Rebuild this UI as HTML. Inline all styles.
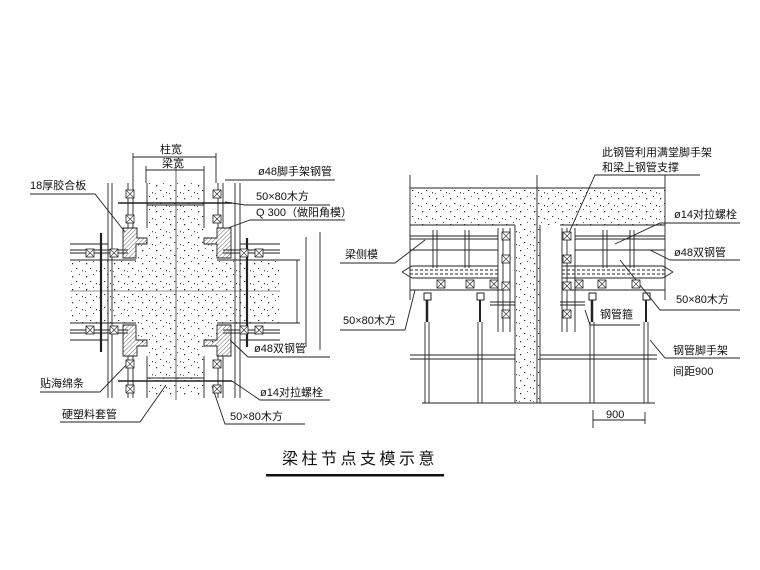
<!DOCTYPE html>
<html><head><meta charset="utf-8"><style>
html,body{margin:0;padding:0;background:#fff;}
svg{display:block}
text{font-family:"Liberation Sans","Noto Sans CJK SC",sans-serif;font-size:11px;fill:#111}
</style></head><body>
<svg width="760" height="570" viewBox="0 0 760 570" xmlns="http://www.w3.org/2000/svg">
<defs>
<pattern id="c" width="14" height="13" patternUnits="userSpaceOnUse">
<rect x="2" y="3" width="1.3" height="1.3" fill="#333"/><rect x="9" y="1" width="1" height="1" fill="#555"/><rect x="6" y="8" width="1.3" height="1" fill="#333"/><rect x="12" y="10" width="1" height="1.3" fill="#444"/><rect x="1" y="11" width="1" height="1" fill="#666"/>
</pattern>
<pattern id="h" width="3" height="3" patternUnits="userSpaceOnUse" patternTransform="rotate(45)"><line x1="0" y1="0" x2="0" y2="3" stroke="#444" stroke-width="0.8"/></pattern>
<g id="wb"><rect x="0" y="0" width="8" height="8" fill="#fff" stroke="#222" stroke-width="0.8"/><path d="M0 0L8 8M8 0L0 8" stroke="#222" stroke-width="0.6"/></g>
</defs>
<g stroke="#222" stroke-width="0.9" fill="none">
<path d="M147 183H204V238H217V260H280V323H217V345H204V398H147V345H136V323H70V260H136V238H147Z" fill="url(#c)" stroke="none"/>
<line x1="176" y1="165" x2="176" y2="400" stroke-width="0.7"/>
<line x1="70" y1="291" x2="280" y2="291" stroke-width="0.6"/>
<line x1="108" y1="183" x2="108" y2="398"/><line x1="112" y1="183" x2="112" y2="398"/>
<line x1="235" y1="183" x2="235" y2="398"/><line x1="240" y1="183" x2="240" y2="398"/>
<line x1="128" y1="183" x2="128" y2="228"/><line x1="133" y1="183" x2="133" y2="228"/>
<line x1="147" y1="183" x2="147" y2="228"/><line x1="204" y1="183" x2="204" y2="228"/>
<line x1="218" y1="183" x2="218" y2="228"/><line x1="223" y1="183" x2="223" y2="228"/>
<line x1="128" y1="356" x2="128" y2="398"/><line x1="133" y1="356" x2="133" y2="398"/>
<line x1="147" y1="356" x2="147" y2="398"/><line x1="204" y1="356" x2="204" y2="398"/>
<line x1="218" y1="356" x2="218" y2="398"/><line x1="223" y1="356" x2="223" y2="398"/>
<line x1="118" y1="203" x2="232" y2="203" stroke-width="1.6"/><line x1="118" y1="381" x2="232" y2="381" stroke-width="1.6"/>
<line x1="147" y1="205" x2="204" y2="205"/><line x1="147" y1="378" x2="204" y2="378"/>
<line x1="70" y1="250" x2="128" y2="250"/><line x1="70" y1="253" x2="128" y2="253"/>
<line x1="70" y1="260" x2="136" y2="260"/>
<line x1="70" y1="323" x2="136" y2="323"/><line x1="70" y1="330" x2="128" y2="330"/><line x1="70" y1="333" x2="128" y2="333"/>
<line x1="223" y1="250" x2="280" y2="250"/><line x1="223" y1="253" x2="280" y2="253"/>
<line x1="217" y1="260" x2="280" y2="260"/>
<line x1="217" y1="323" x2="280" y2="323"/><line x1="223" y1="330" x2="280" y2="330"/><line x1="223" y1="333" x2="280" y2="333"/>
<line x1="70" y1="244" x2="108" y2="244"/><line x1="240" y1="244" x2="280" y2="244"/>
<line x1="70" y1="340" x2="108" y2="340"/><line x1="240" y1="340" x2="280" y2="340"/>
<line x1="101" y1="233" x2="101" y2="352" stroke-width="2.2"/><line x1="247" y1="238" x2="247" y2="347" stroke-width="2.2"/>
<path d="M123 228H137V238H147V244H136V258H123Z" fill="url(#h)"/>
<path d="M217 228H231V258H217V244H204V238H217Z" fill="url(#h)"/>
<path d="M123 325H136V340H147V346H137V356H123Z" fill="url(#h)"/>
<path d="M217 325H231V356H217V346H204V340H217Z" fill="url(#h)"/>
<line x1="133" y1="157" x2="216" y2="157"/><line x1="146" y1="170" x2="204" y2="170"/>
<line x1="133" y1="153" x2="133" y2="183"/><line x1="216" y1="153" x2="216" y2="183"/>
<line x1="146" y1="166" x2="146" y2="183"/><line x1="204" y1="166" x2="204" y2="183"/>
<line x1="297" y1="260" x2="297" y2="323"/><line x1="306" y1="237" x2="306" y2="347"/><line x1="320" y1="232" x2="320" y2="350"/>
<line x1="280" y1="260" x2="300" y2="260"/><line x1="280" y1="323" x2="300" y2="323"/>
<polyline points="30,194 95,194 125,232"/><polyline points="225,177 245,179 335,179" opacity="0"/>
<polyline points="225,180 242,180 252,180"/>
<polyline points="225,202 245,205 330,205"/><polyline points="228,228 250,220 345,220"/>
<polyline points="230,340 248,357 330,357"/><polyline points="131,360 100,392 40,392"/>
<polyline points="166,385 140,422 60,422"/><polyline points="232,381 260,400 330,400"/><polyline points="212,386 225,424 305,424"/>
<line x1="252" y1="180" x2="335" y2="180"/>
<rect x="410" y="188" width="255" height="37" fill="url(#c)" stroke="none"/>
<rect x="515" y="188" width="25" height="215" fill="url(#c)" stroke="none"/>
<line x1="410" y1="175" x2="410" y2="300"/><line x1="665" y1="175" x2="665" y2="300"/>
<line x1="537" y1="175" x2="537" y2="403"/>
<line x1="410" y1="188" x2="665" y2="188"/>
<line x1="515" y1="225" x2="515" y2="403"/><line x1="540" y1="225" x2="540" y2="403"/>
<line x1="410" y1="225" x2="515" y2="225"/><line x1="560" y1="225" x2="665" y2="225"/>
<line x1="410" y1="236" x2="498" y2="236"/><line x1="410" y1="239" x2="498" y2="239"/>
<line x1="575" y1="236" x2="665" y2="236"/><line x1="575" y1="239" x2="665" y2="239"/>
<line x1="410" y1="250" x2="498" y2="250"/><line x1="575" y1="250" x2="665" y2="250"/>
<path d="M402 272L412 266H498M412 278L402 272M412 278H498" /><path d="M673 272L663 266H562M663 278L673 272M663 278H562"/>
<line x1="410" y1="270" x2="498" y2="270" stroke-dasharray="3 2"/><line x1="410" y1="274" x2="498" y2="274" stroke-dasharray="3 2"/>
<line x1="562" y1="270" x2="665" y2="270" stroke-dasharray="3 2"/><line x1="562" y1="274" x2="665" y2="274" stroke-dasharray="3 2"/>
<line x1="410" y1="290" x2="505" y2="290"/><line x1="570" y1="290" x2="665" y2="290"/>
<line x1="433" y1="230" x2="433" y2="268"/><line x1="437" y1="230" x2="437" y2="268"/>
<line x1="465" y1="230" x2="465" y2="268"/><line x1="469" y1="230" x2="469" y2="268"/>
<line x1="603" y1="230" x2="603" y2="268"/><line x1="607" y1="230" x2="607" y2="268"/>
<line x1="630" y1="230" x2="630" y2="268"/><line x1="634" y1="230" x2="634" y2="268"/>
<line x1="498" y1="228" x2="498" y2="332"/><line x1="503" y1="228" x2="503" y2="332"/><line x1="510" y1="228" x2="510" y2="332"/>
<line x1="562" y1="228" x2="562" y2="332"/><line x1="567" y1="228" x2="567" y2="332"/><line x1="575" y1="228" x2="575" y2="332"/>
<g stroke-width="1"><rect x="424" y="293" width="7" height="7"/><rect x="477" y="293" width="7" height="7"/><rect x="589" y="293" width="7" height="7"/><rect x="643" y="293" width="7" height="7"/></g>
<line x1="427" y1="300" x2="427" y2="322" stroke-width="2.5"/><line x1="480" y1="300" x2="480" y2="322" stroke-width="2"/>
<line x1="592" y1="300" x2="592" y2="322" stroke-width="2.5"/><line x1="646" y1="300" x2="646" y2="322" stroke-width="2"/>
<line x1="425" y1="322" x2="425" y2="403"/><line x1="429" y1="322" x2="429" y2="403"/>
<line x1="478" y1="322" x2="478" y2="403"/><line x1="482" y1="322" x2="482" y2="403"/>
<line x1="590" y1="322" x2="590" y2="403"/><line x1="594" y1="322" x2="594" y2="403"/>
<line x1="644" y1="322" x2="644" y2="403"/><line x1="648" y1="322" x2="648" y2="403"/>
<line x1="410" y1="355" x2="515" y2="355"/><line x1="410" y1="359" x2="515" y2="359"/>
<line x1="540" y1="355" x2="657" y2="355"/><line x1="540" y1="359" x2="657" y2="359"/>
<line x1="490" y1="302" x2="515" y2="302"/><line x1="490" y1="305" x2="515" y2="305"/>
<line x1="560" y1="302" x2="585" y2="302"/><line x1="560" y1="305" x2="585" y2="305"/>
<line x1="422" y1="403" x2="655" y2="403"/>
<polyline points="568,235 595,175 700,175"/><polyline points="340,263 395,263 425,240"/>
<polyline points="615,244 660,223 740,223"/><polyline points="650,250 670,260 740,260"/>
<polyline points="620,260 660,310 740,310"/><polyline points="415,290 405,330 340,330"/>
<polyline points="585,310 590,325 640,325"/><polyline points="650,340 665,358 740,358"/>
<line x1="593" y1="420" x2="645" y2="420"/><line x1="593" y1="410" x2="593" y2="428"/><line x1="645" y1="412" x2="645" y2="424"/>
</g>
<use href="#wb" x="126" y="190"/><use href="#wb" x="126" y="215"/><use href="#wb" x="213" y="190"/><use href="#wb" x="213" y="215"/>
<use href="#wb" x="126" y="360"/><use href="#wb" x="126" y="385"/><use href="#wb" x="213" y="360"/><use href="#wb" x="213" y="385"/>
<use href="#wb" x="86" y="249"/><use href="#wb" x="110" y="249"/><use href="#wb" x="240" y="249"/><use href="#wb" x="255" y="249"/>
<use href="#wb" x="86" y="326"/><use href="#wb" x="110" y="326"/><use href="#wb" x="240" y="326"/><use href="#wb" x="255" y="326"/>
<use href="#wb" x="502" y="232"/><use href="#wb" x="502" y="255"/><use href="#wb" x="502" y="282"/><use href="#wb" x="502" y="310"/>
<use href="#wb" x="563" y="232"/><use href="#wb" x="563" y="255"/><use href="#wb" x="563" y="282"/><use href="#wb" x="563" y="310"/>
<use href="#wb" x="437" y="280"/><use href="#wb" x="466" y="280"/><use href="#wb" x="490" y="280"/>
<use href="#wb" x="575" y="280"/><use href="#wb" x="598" y="280"/><use href="#wb" x="632" y="280"/>
<text x="160" y="153" font-size="9">柱宽</text><text x="162" y="167" font-size="9">梁宽</text>
<text x="30" y="189">18厚胶合板</text>
<text x="258" y="175">ø48脚手架钢管</text>
<text x="256" y="200">50×80木方</text>
<text x="256" y="216">Q 300（做阳角模）</text>
<text x="254" y="352">ø48双钢管</text>
<text x="40" y="387">贴海绵条</text>
<text x="62" y="418">硬塑料套管</text>
<text x="260" y="396">ø14对拉螺栓</text>
<text x="230" y="420">50×80木方</text>
<text x="602" y="156">此钢管利用满堂脚手架</text>
<text x="602" y="171">和梁上钢管支撑</text>
<text x="345" y="258">梁侧模</text>
<text x="674" y="218">ø14对拉螺栓</text>
<text x="674" y="256">ø48双钢管</text>
<text x="676" y="303">50×80木方</text>
<text x="343" y="324">50×80木方</text>
<text x="600" y="318">钢管箍</text>
<text x="673" y="354">钢管脚手架</text>
<text x="673" y="375" font-size="10">间距900</text>
<text x="606" y="418" font-size="10">900</text>
<text x="282" y="464" style="font-size:16px;letter-spacing:3.5px">梁柱节点支模示意</text>
<rect x="266" y="474" width="178" height="2.5" fill="#111"/>
</svg>
</body></html>
